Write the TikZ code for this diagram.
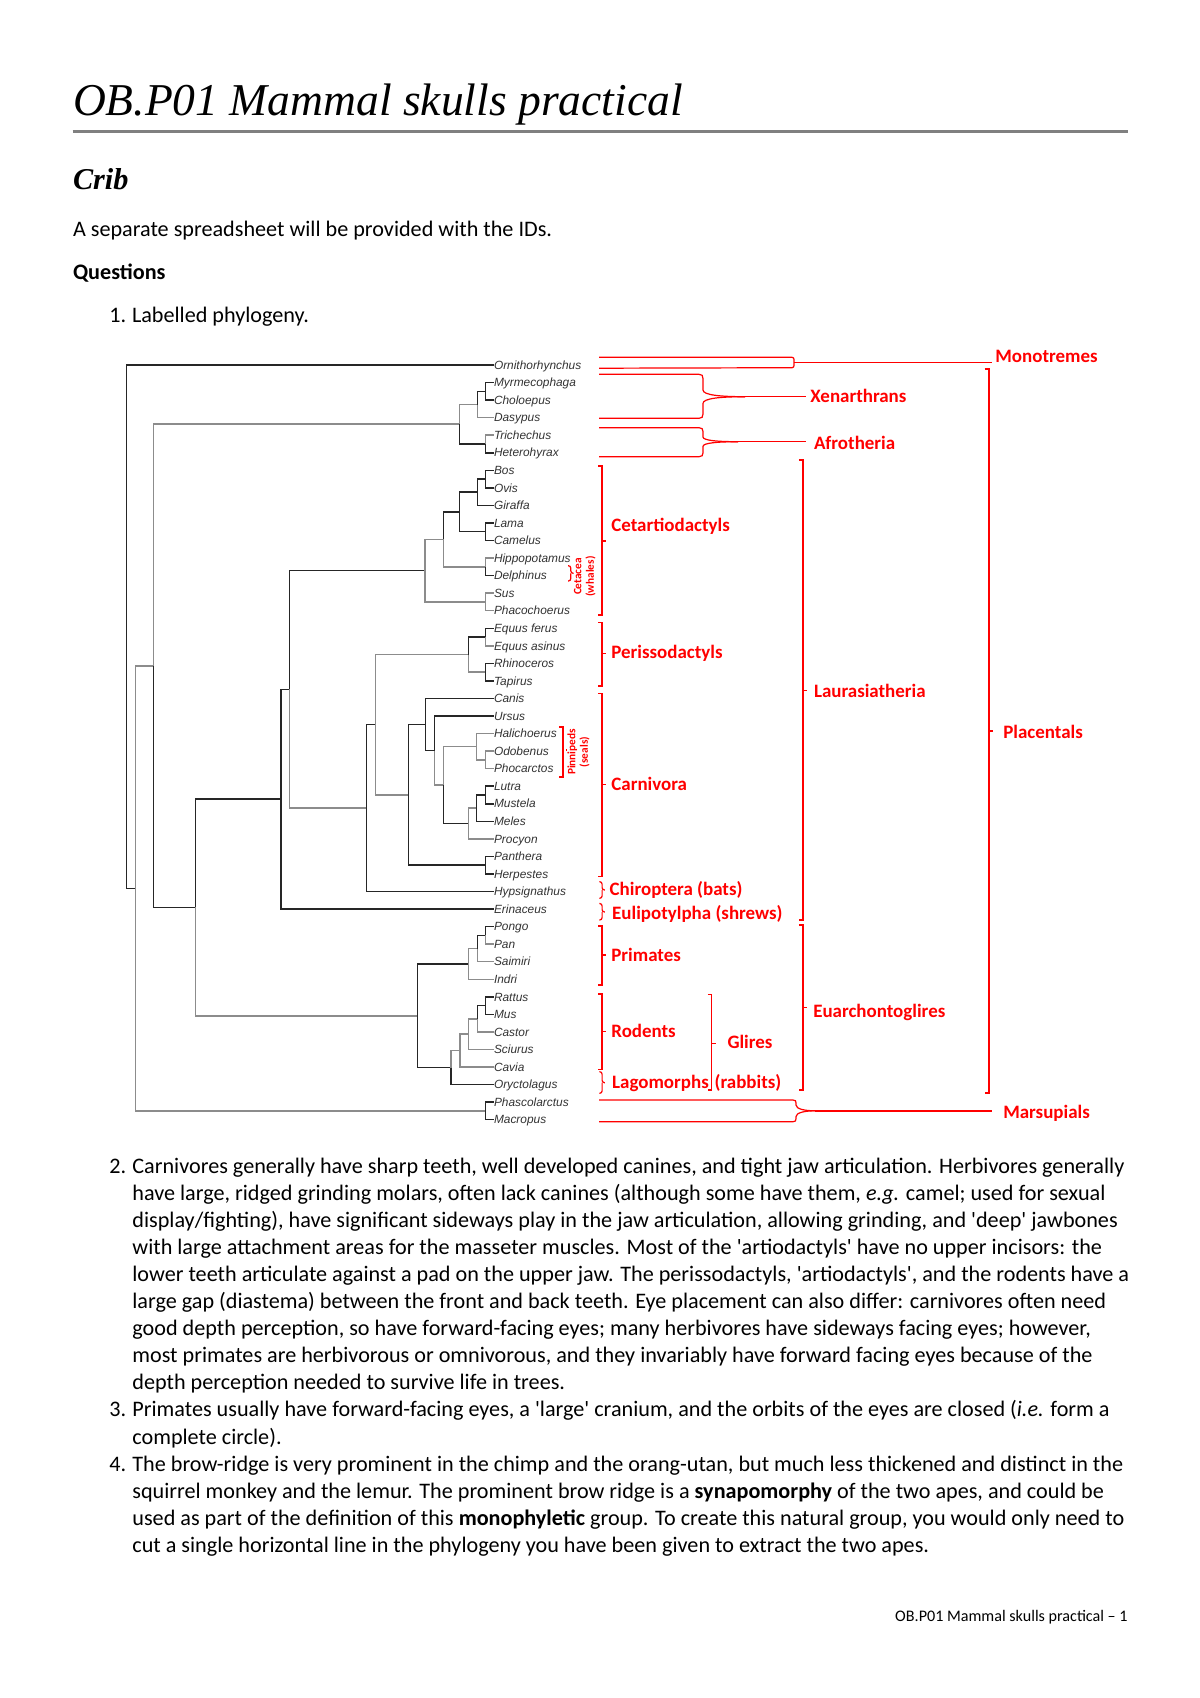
\documentclass[tikz,border=0pt]{standalone}
\usepackage{fontspec}
\setmainfont{Carlito}
\newfontfamily\titlefont{Liberation Serif}
\newfontfamily\leaffont{Liberation Sans}
\newcommand\sq{\textquotesingle}
\newcommand\brn[3]{\draw[#1] (#2) |- (#3);}
\newcommand\sqbr[4]{\draw[redl] (#1-4,#2) -- (#1,#2) -- (#1,#3) -- (#1-4,#3); \draw[redl] (#1,#4) -- (#1+4,#4);}
\newcommand\cbr[4]{\draw[redl,rounded corners=1.2pt] (#1,#2) -| (#1+2.8,#4) -- (#1+5.5,#4); \draw[redl,rounded corners=1.2pt] (#1,#3) -| (#1+2.8,#4);}
\begin{document}
\begin{tikzpicture}[x=0.49606pt,y=-0.49606pt,
  leaf/.style={font=\leaffont\itshape\fontsize{5.9}{6}\selectfont, text=black!80, anchor=west, inner sep=0pt, outer sep=0pt, text height=4.2pt, text depth=0pt},
  dk/.style={draw=black!85, line width=0.75pt},
  lg/.style={draw=black!45, line width=0.75pt},
  redl/.style={draw=red, line width=0.6pt},
  rlab/.style={text=red, font=\bfseries\fontsize{9.4}{11}\selectfont, anchor=base west, inner sep=0pt},
  rsmall/.style={text=red, font=\bfseries\fontsize{5.6}{6.2}\selectfont, align=center, inner sep=0pt, rotate=90},
  body/.style={anchor=base west, inner sep=0pt, font=\fontsize{11}{13.4}\selectfont}]
\useasboundingbox (0,0) rectangle (1200,1698);
\fill[white] (0,0) rectangle (1200,1698);

% ---------- header ----------
\node[anchor=base west, inner sep=0pt, font=\titlefont\itshape\fontsize{22.6}{26}\selectfont] (title) at (72.6,115) {OB.P01 Mammal skulls practical};
\draw[black!50, line width=1.4pt] (72.6,131.7) -- (1128,131.7);
\node[anchor=base west, inner sep=0pt, font=\titlefont\bfseries\itshape\fontsize{15}{18}\selectfont] (crib) at (72.6,189) {Crib};
\node[body] (sep) at (72.6,236) {A separate spreadsheet will be provided with the IDs.};
\node[body, font=\bfseries\fontsize{11}{13.4}\selectfont] (quest) at (72.6,279.3) {Questions};
\node[body] (n1) at (109,322.7) {1.};
\node[body] (t1) at (131.6,322.7) {Labelled phylogeny.};

% ---------- leaves ----------
\foreach \nm [count=\i from 0] in {Ornithorhynchus,Myrmecophaga,Choloepus,Dasypus,Trichechus,Heterohyrax,Bos,Ovis,Giraffa,Lama,Camelus,Hippopotamus,Delphinus,Sus,Phacochoerus,Equus ferus,Equus asinus,Rhinoceros,Tapirus,Canis,Ursus,Halichoerus,Odobenus,Phocarctos,Lutra,Mustela,Meles,Procyon,Panthera,Herpestes,Hypsignathus,Erinaceus,Pongo,Pan,Saimiri,Indri,Rattus,Mus,Castor,Sciurus,Cavia,Oryctolagus,Phascolarctus,Macropus}
  {\node[leaf] (L\i) at (494,{365+17.55*\i}) {\nm};}

% ---------- internal nodes ----------
\coordinate (root) at (126.7,626.68);
\coordinate (theria) at (135.7,888.36);
\coordinate (plac) at (153.3,665.84);
\coordinate (mars) at (485.7,1110.88);
\coordinate (atl) at (459.3,424.2);
\coordinate (xen) at (477.7,404.5);
\coordinate (mc) at (485.7,391.3);
\coordinate (afro) at (485.7,443.98);
\coordinate (boreo) at (195.7,907.48);
\coordinate (laur) at (281,799.22);
\coordinate (scrot) at (289.3,689.39);
\coordinate (cet) at (425,570.67);
\coordinate (cetru) at (443.3,539.4);
\coordinate (rt) at (459.3,511.98);
\coordinate (box) at (477.7,492.24);
\coordinate (bo) at (485.7,479.08);
\coordinate (lc) at (485.7,531.73);
\coordinate (hd) at (485.7,566.83);
\coordinate (sp) at (485.7,601.93);
\coordinate (fer) at (366.7,808.1);
\coordinate (pc) at (375.3,724.71);
\coordinate (per) at (468.3,654.58);
\coordinate (eq) at (485.7,637.03);
\coordinate (rtp) at (485.7,672.13);
\coordinate (carn) at (408.7,794.84);
\coordinate (cani) at (425.3,724.5);
\coordinate (arct) at (434.3,750.55);
\coordinate (pm) at (443.3,785.1);
\coordinate (pin) at (476.7,746.71);
\coordinate (op) at (485.7,759.88);
\coordinate (must) at (468.3,823.49);
\coordinate (lmm) at (476.7,808.14);
\coordinate (lm) at (485.7,794.98);
\coordinate (feli) at (485.7,865.18);
\coordinate (euarch) at (417.3,1015.73);
\coordinate (prim) at (468.3,963.9);
\coordinate (pps) at (477.7,948.54);
\coordinate (pp) at (485.7,935.38);
\coordinate (glires) at (451,1067.55);
\coordinate (rod) at (460,1050.55);
\coordinate (rmcs) at (468.3,1034.1);
\coordinate (rmc) at (477.7,1018.74);
\coordinate (rm) at (485.7,1005.58);

% ---------- branches ----------
\brn{dk}{root}{L0.west}
\brn{dk}{root}{theria}
\brn{lg}{theria}{plac}
\brn{lg}{theria}{mars}
\brn{dk}{mars}{L42.west}
\brn{dk}{mars}{L43.west}
\brn{lg}{plac}{atl}
\brn{dk}{plac}{boreo}
\brn{lg}{atl}{xen}
\brn{dk}{atl}{afro}
\brn{dk}{xen}{mc}
\brn{lg}{xen}{L3.west}
\brn{dk}{mc}{L1.west}
\brn{dk}{mc}{L2.west}
\brn{lg}{afro}{L4.west}
\brn{dk}{afro}{L5.west}
\brn{dk}{boreo}{laur}
\brn{lg}{boreo}{euarch}
\brn{dk}{laur}{scrot}
\brn{dk}{laur}{L31.west}
\brn{dk}{scrot}{cet}
\brn{lg}{scrot}{fer}
\brn{lg}{cet}{cetru}
\brn{lg}{cet}{sp}
\brn{dk}{cetru}{rt}
\brn{lg}{cetru}{hd}
\brn{dk}{rt}{box}
\brn{dk}{rt}{lc}
\brn{dk}{box}{bo}
\brn{dk}{box}{L8.west}
\brn{dk}{bo}{L6.west}
\brn{dk}{bo}{L7.west}
\brn{dk}{lc}{L9.west}
\brn{dk}{lc}{L10.west}
\brn{lg}{hd}{L11.west}
\brn{dk}{hd}{L12.west}
\brn{lg}{sp}{L13.west}
\brn{lg}{sp}{L14.west}
\brn{dk}{fer}{pc}
\brn{dk}{fer}{L30.west}
\brn{lg}{pc}{per}
\brn{lg}{pc}{carn}
\brn{dk}{per}{eq}
\brn{lg}{per}{rtp}
\brn{dk}{eq}{L15.west}
\brn{lg}{eq}{L16.west}
\brn{dk}{rtp}{L17.west}
\brn{dk}{rtp}{L18.west}
\brn{dk}{carn}{cani}
\brn{dk}{carn}{feli}
\brn{dk}{feli}{L28.west}
\brn{dk}{feli}{L29.west}
\brn{dk}{cani}{L19.west}
\brn{dk}{cani}{arct}
\brn{dk}{arct}{L20.west}
\brn{lg}{arct}{pm}
\brn{lg}{pm}{pin}
\brn{dk}{pm}{must}
\brn{lg}{pin}{L21.west}
\brn{lg}{pin}{op}
\brn{lg}{op}{L22.west}
\brn{lg}{op}{L23.west}
\brn{lg}{must}{lmm}
\brn{lg}{must}{L27.west}
\brn{dk}{lmm}{lm}
\brn{dk}{lmm}{L26.west}
\brn{dk}{lm}{L24.west}
\brn{dk}{lm}{L25.west}
\brn{dk}{euarch}{prim}
\brn{dk}{euarch}{glires}
\brn{lg}{prim}{pps}
\brn{lg}{prim}{L35.west}
\brn{dk}{pps}{pp}
\brn{lg}{pps}{L34.west}
\brn{dk}{pp}{L32.west}
\brn{lg}{pp}{L33.west}
\brn{lg}{glires}{rod}
\brn{dk}{glires}{L41.west}
\brn{lg}{rod}{rmcs}
\brn{lg}{rod}{L40.west}
\brn{lg}{rmcs}{rmc}
\brn{lg}{rmcs}{L39.west}
\brn{dk}{rmc}{rm}
\brn{lg}{rmc}{L38.west}
\brn{dk}{rm}{L36.west}
\brn{dk}{rm}{L37.west}

% ---------- red annotations ----------
% Monotremes
\draw[redl, rounded corners=1pt] (599,357.3) -- (794,357.3) -- (794,367.7) -- (599,368.2);
\draw[redl] (794,362.5) -- (992,362.5);
\node[rlab] (mono) at (995,362.5) {Monotremes};
% Xenarthrans
\draw[redl] (599,374.3) -- (699,374.3) .. controls (702,374.3) and (703,375.5) .. (703,378.5) -- (703,390) .. controls (703,395) and (720,396.7) .. (745,396.7);
\draw[redl] (599,418.3) -- (699,418.3) .. controls (702,418.3) and (703,417) .. (703,414) -- (703,403.4) .. controls (703,398.4) and (720,396.7) .. (745,396.7);
\draw[redl] (745,396.7) -- (806,396.7);
\node[rlab] (xenl) at (810,402.5) {Xenarthrans};
% Afrotheria
\draw[redl] (599,427.7) -- (699,427.7) .. controls (702,427.7) and (703,429) .. (703,431.5) -- (703,437) .. controls (703,440.5) and (718,441.7) .. (738,441.7);
\draw[redl] (599,456.7) -- (699,456.7) .. controls (702,456.7) and (703,455.4) .. (703,452.9) -- (703,446.4) .. controls (703,442.9) and (718,441.7) .. (738,441.7);
\draw[redl] (738,441.7) -- (806,441.7);
\node[rlab] (afrl) at (813.6,449) {Afrotheria};
% square brackets
\sqbr{602}{466}{615}{541}
\node[rlab] (cetl) at (611,531.7) {Cetartiodactyls};
\sqbr{602}{622.7}{686}{653.3}
\node[rlab] (perl) at (611,658) {Perissodactyls};
\sqbr{602}{693.3}{876.7}{784.3}
\node[rlab] (carl) at (611,790) {Carnivora};
\sqbr{602}{926}{985}{955}
\node[rlab] (priml) at (611,961.5) {Primates};
\sqbr{602}{994}{1069.3}{1031.7}
\node[rlab] (rodl) at (611,1037) {Rodents};
\sqbr{711.8}{994.3}{1090}{1043.3}
\node[rlab] (glil) at (727.1,1048) {Glires};
\sqbr{802.9}{460}{920}{690.7}
\node[rlab] (laul) at (813.6,697) {Laurasiatheria};
\sqbr{802.9}{925}{1090}{1007.3}
\node[rlab] (eual) at (812.9,1017) {Euarchontoglires};
\draw[red, line width=1pt] (984.6,369.3) -- (988.6,369.3) -- (988.6,1092.7) -- (984.6,1092.7);
\draw[red, line width=1pt] (988.6,731) -- (992.6,731);
\node[rlab] (plal) at (1002.9,738) {Placentals};
% small braces
\cbr{599.3}{881.7}{898.3}{890}
\node[rlab] (chil) at (609.3,895) {Chiroptera (bats)};
\cbr{599.3}{903.5}{920}{912}
\node[rlab] (euli) at (611.8,919) {Eulipotylpha (shrews)};
\cbr{599.3}{1071.7}{1093.3}{1082.7}
\node[rlab] (lagl) at (611.8,1088) {Lagomorphs};
\node[rlab] (rabl) at (714.3,1088) {(rabbits)};
% Cetacea
\cbr{568}{565.7}{581}{573.3}
\node[rsmall] (ceta) at (584.7,576.5) {Cetacea\\(whales)};
% Pinnipeds
\draw[redl] (559,727) -- (563,727) -- (563,777) -- (559,777);
\draw[redl, densely dotted] (563,750) -- (568,750);
\node[rsmall] (pinn) at (578.5,752) {Pinnipeds\\(seals)};
% Marsupials
\draw[redl] (599,1100) -- (793,1100) .. controls (795.5,1100) and (796,1101) .. (796,1103) -- (796,1105) .. controls (796,1109) and (805,1110.8) .. (815,1110.8);
\draw[redl] (599,1121.7) -- (793,1121.7) .. controls (795.5,1121.7) and (796,1120.7) .. (796,1118.7) -- (796,1116.6) .. controls (796,1112.6) and (805,1110.8) .. (815,1110.8);
\draw[red, line width=1.3pt] (815,1110.8) -- (992,1110.8);
\node[rlab] (marl) at (1002.9,1118) {Marsupials};

% ---------- body text ----------
\node[body] (n2) at (109,1173) {2.};
\node[body] (a1) at (132,1173) {Carnivores generally have sharp teeth, well developed canines, and tight jaw articulation. Herbivores generally};
\node[body] (a2) at (132,1200.1) {have large, ridged grinding molars, often lack canines (although some have them, \emph{e.g.} camel; used for sexual};
\node[body] (a3) at (132,1227.2) {display/fighting), have significant sideways play in the jaw articulation, allowing grinding, and \sq deep\sq\ jawbones};
\node[body] (a4) at (132,1254.3) {with large attachment areas for the masseter muscles. Most of the \sq artiodactyls\sq\ have no upper incisors: the};
\node[body] (a5) at (132,1281.4) {lower teeth articulate against a pad on the upper jaw. The perissodactyls, \sq artiodactyls\sq, and the rodents have a};
\node[body] (a6) at (132,1308.5) {large gap (diastema) between the front and back teeth. Eye placement can also differ: carnivores often need};
\node[body] (a7) at (132,1335.6) {good depth perception, so have forward-facing eyes; many herbivores have sideways facing eyes; however,};
\node[body] (a8) at (132,1362.7) {most primates are herbivorous or omnivorous, and they invariably have forward facing eyes because of the};
\node[body] (a9) at (132,1389.8) {depth perception needed to survive life in trees.};
\node[body] (n3) at (109,1416.9) {3.};
\node[body] (b1) at (132,1416.9) {Primates usually have forward-facing eyes, a \sq large\sq\ cranium, and the orbits of the eyes are closed (\emph{i.e.} form a};
\node[body] (b2) at (132,1444) {complete circle).};
\node[body] (n4) at (109,1471.1) {4.};
\node[body] (c1) at (132,1471.1) {The brow-ridge is very prominent in the chimp and the orang-utan, but much less thickened and distinct in the};
\node[body] (c2) at (132,1498.2) {squirrel monkey and the lemur. The prominent brow ridge is a \textbf{synapomorphy} of the two apes, and could be};
\node[body] (c3) at (132,1525.3) {used as part of the definition of this \textbf{monophyletic} group. To create this natural group, you would only need to};
\node[body] (c4) at (132,1552.4) {cut a single horizontal line in the phylogeny you have been given to extract the two apes.};

% ---------- footer ----------
\node[anchor=base east, inner sep=0pt, font=\fontsize{8}{9.6}\selectfont] (foot) at (1128,1621.5) {OB.P01 Mammal skulls practical -- 1};
\end{tikzpicture}
\end{document}
